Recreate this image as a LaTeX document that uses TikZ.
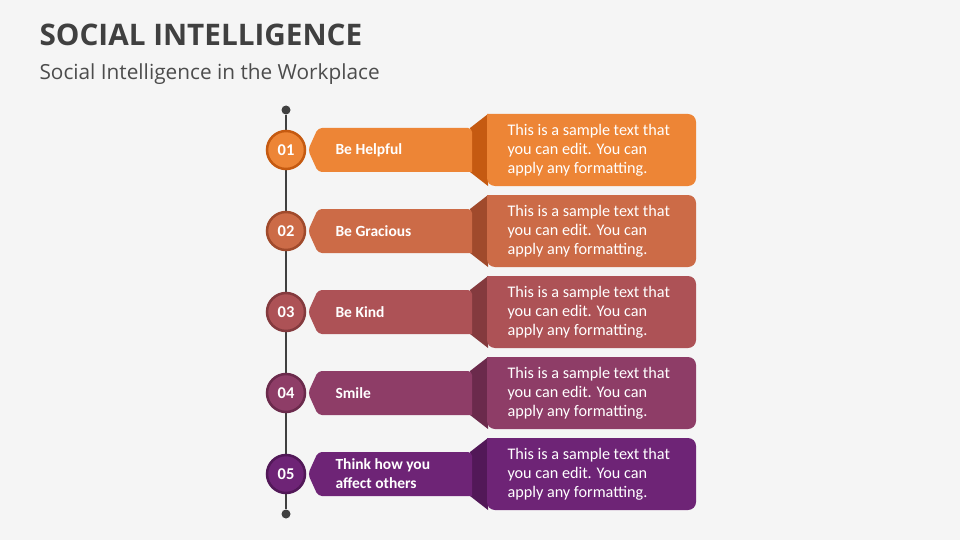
\documentclass[tikz,border=0pt]{standalone}
\usepackage{fontspec}
\setmainfont{Carlito}
\newfontfamily\titlefont{Open Sans}
\begin{document}
\begin{tikzpicture}[x=1pt,y=-1pt,
  num/.style={circle,minimum size=38pt,inner sep=0pt,line width=2.5pt,text=white,font=\bfseries\fontsize{16.5}{18}\selectfont},
  lbl/.style={anchor=west,text=white,font=\bfseries\fontsize{15.5}{19}\selectfont,align=left},
  body/.style={anchor=west,text=white,font=\fontsize{16.2}{19}\selectfont,align=left},
  dotn/.style={circle,fill=black!75,inner sep=0pt,minimum size=9pt}]
\fill[gray!8] (0,0) rectangle (960,540);
\useasboundingbox (0,0) rectangle (960,540);
\node[anchor=west,font=\titlefont\bfseries\fontsize{29.7}{34}\selectfont,text=black!75] (title) at (36,35) {SOCIAL INTELLIGENCE};
\node[anchor=west,font=\titlefont\fontsize{20.8}{24}\selectfont,text=black!70] (sub) at (36,74) {Social Intelligence in the Workplace};
\node[dotn] (top) at (286,110) {};
\node[dotn] (bot) at (286,514) {};
\draw[black!75,line width=1.3pt] (top) -- (bot);
\foreach \i/\c/\d/\l [count=\k from 0] in {
 01/ED8536/C55A11/{Be Helpful},
 02/CC6B47/A04A2C/{Be Gracious},
 03/AD5256/843A3E/{Be Kind},
 04/8E3D67/6B2A4C/{Smile},
 05/6E2476/521858/{Think how you\\affect others}}{
 \definecolor{cc}{HTML}{\c}\definecolor{dd}{HTML}{\d}
 \pgfmathsetmacro\yy{150+81*\k}
 \begin{scope}[shift={(0,\yy)}]
 \fill[dd] (470,-22) -- (488,-36) -- (488,36) -- (470,22) -- cycle;
 \fill[cc,rounded corners=8pt] (487,-36) -- (696,-36) -- (696,36) -- (487,36) [sharp corners] -- cycle;
 \fill[cc,rounded corners=4pt] (308,0) -- (318,-22) -- (472,-22) [sharp corners] -- (472,22) [rounded corners=4pt] -- (318,22) -- cycle;
 \node[num,fill=cc,draw=dd] (n\i) at (286,0) {\i};
 \node[lbl] (l\i) at (332,0) {\l};
 \node[body] (b\i) at (504,0) {This is a sample text that\\you can edit. You can\\apply any formatting.};
 \end{scope}}
\end{tikzpicture}
\end{document}
